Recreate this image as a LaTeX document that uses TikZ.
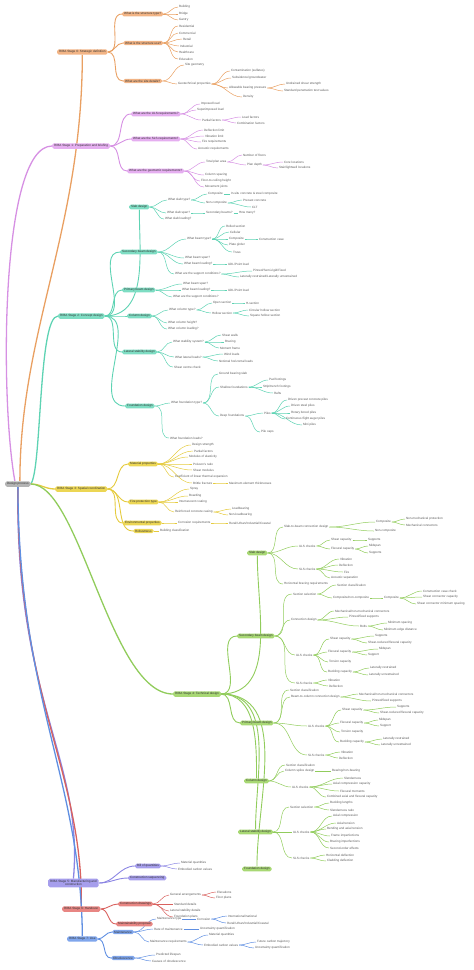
\documentclass[tikz,border=0pt]{standalone}
\usepackage{fontspec}
\setmainfont{Liberation Sans}
\usetikzlibrary{backgrounds}

\definecolor{c0l}{HTML}{E9A062}\definecolor{c0f}{HTML}{F2B485}
\definecolor{c1l}{HTML}{D690E3}\definecolor{c1f}{HTML}{E5AEF0}
\definecolor{c2l}{HTML}{5ED3B3}\definecolor{c2f}{HTML}{7EDDC3}
\definecolor{c3l}{HTML}{E5CB3E}\definecolor{c3f}{HTML}{ECD654}
\definecolor{c4l}{HTML}{91CC5C}\definecolor{c4f}{HTML}{A8D874}
\definecolor{c5l}{HTML}{8B85E3}\definecolor{c5f}{HTML}{A69EEC}
\definecolor{c6l}{HTML}{D9625F}\definecolor{c6f}{HTML}{E88683}
\definecolor{c7l}{HTML}{5F8FE2}\definecolor{c7f}{HTML}{80A6EC}
\definecolor{rootf}{HTML}{B4B4B4}

\tikzset{
  leaf/.style={anchor=west, inner xsep=.8pt, inner ysep=.3pt, text=black!65},
  pill/.style={leaf, fill=#1, rounded corners=1.6pt, inner xsep=2pt, inner ysep=.9pt, text=black!80},
  stage/.style={pill=#1, inner ysep=1.3pt},
  twig/.style={draw=#1, line width=.5pt},
  bough/.style={draw=#1, line width=.9pt},
  trunk/.style={draw=#1, line width=1.3pt},
}
\newcommand\twigs[2]{\foreach \p/\c in {#2} \draw[twig=#1] (\p.east) to[out=0,in=180] (\c.west);}
\newcommand\boughs[2]{\foreach \p/\c in {#2} \draw[bough=#1] (\p.east) to[out=0,in=180] (\c.west);}

\begin{document}
\begin{tikzpicture}[x=1pt, y=-1pt, font=\fontsize{3.1}{3.7}\selectfont]
\useasboundingbox (0,0) rectangle (474,970);

\node[stage=rootf] (root) at (5,484) {Design process};

% stage 0
\node[stage=c0f] (st0) at (57,52) {RIBA Stage 0: Strategic definition};
\node[pill=c0f] (s0typ) at (122,14) {What is the structure type?};
\node[leaf] (s0bld) at (178,7) {Building};
\node[leaf] (s0brg) at (178,14) {Bridge};
\node[leaf] (s0gan) at (178,20) {Gantry};
\node[pill=c0f] (s0use) at (123,43) {What is the structure use?};
\node[leaf] (s0res) at (178,26) {Residential};
\node[leaf] (s0com) at (178,33) {Commercial};
\node[leaf] (s0ret) at (182,39) {Retail};
\node[leaf] (s0ind) at (179,46) {Industrial};
\node[leaf] (s0hea) at (178,52) {Healthcare};
\node[leaf] (s0edu) at (178,59) {Education};
\node[pill=c0f] (s0sit) at (123,81) {What are the site details?};
\node[leaf] (s0sgm) at (184,65) {Site geometry};
\node[leaf] (s0gtp) at (177,84) {Geotechnical properties};
\node[leaf] (s0con) at (230,71) {Contamination (sulfates)};
\node[leaf] (s0sub) at (231,78) {Subsidence/groundwater};
\node[leaf] (s0abp) at (228,88) {Allowable bearing pressure};
\node[leaf] (s0ush) at (285,84) {Undrained shear strength};
\node[leaf] (s0spt) at (283,91) {Standard penetration test values};
\node[leaf] (s0den) at (242,97) {Density};

% stage 1
\node[stage=c1f] (st1) at (52,146) {RIBA Stage 1: Preparation and briefing};
\node[pill=c1f] (s1uls) at (131,114) {What are the ULS requirements?};
\node[leaf] (s1imp) at (200,104) {Imposed load};
\node[leaf] (s1sup) at (196,110) {Superimposed load};
\node[leaf] (s1pf) at (201,120) {Partial factors};
\node[leaf] (s1lf) at (241,117) {Load factors};
\node[leaf] (s1cf) at (236,123) {Combination factors};
\node[pill=c1f] (s1sls) at (131,139) {What are the SLS requirements?};
\node[leaf] (s1def) at (203,130) {Deflection limit};
\node[leaf] (s1vib) at (204,136) {Vibration limit};
\node[leaf] (s1fir) at (201,142) {Fire requirements};
\node[leaf] (s1aco) at (197,149) {Acoustic requirements};
\node[pill=c1f] (s1geo) at (127,171) {What are the geometric requirements?};
\node[leaf] (s1tpa) at (205,162) {Total plan area};
\node[leaf] (s1nof) at (242,155) {Number of floors};
\node[leaf] (s1pd) at (246,165) {Plan depth};
\node[leaf] (s1cor) at (283,162) {Core locations};
\node[leaf] (s1stl) at (278,168) {Stair/lightwell locations};
\node[leaf] (s1col) at (204,175) {Column spacing};
\node[leaf] (s1ftc) at (200,181) {Floor-to-ceiling height};
\node[leaf] (s1mov) at (204,187) {Movement joints};

% stage 2
\node[stage=c2f] (st2) at (58,316) {RIBA Stage 2: Concept design};
\node[pill=c2f] (s2slb) at (129,207) {Slab design};
\node[leaf] (s2sty) at (167,200) {What slab type?};
\node[leaf] (s2cmp) at (207,194) {Composite};
\node[leaf] (s2isc) at (230,194) {In-situ concrete \& steel composite};
\node[leaf] (s2ncp) at (205,203) {Non-composite};
\node[leaf] (s2pc) at (242,200) {Precast concrete};
\node[leaf] (s2clt) at (251,207) {CLT};
\node[leaf] (s2ssp) at (166,213) {What slab span?};
\node[leaf] (s2sbm) at (205,213) {Secondary beams?};
\node[leaf] (s2hm) at (238,213) {How many?};
\node[leaf] (s2sld) at (164,219) {What slab loading?};
\node[pill=c2f] (s2sec) at (120,252) {Secondary beam design};
\node[leaf] (s2bty) at (186,239) {What beam type?};
\node[leaf] (s2rol) at (225,226) {Rolled section};
\node[leaf] (s2cel) at (229,232) {Cellular};
\node[leaf] (s2bcm) at (228,239) {Composite};
\node[leaf] (s2ccs) at (258,239) {Construction case};
\node[leaf] (s2pg) at (228,245) {Plate girder};
\node[leaf] (s2tru) at (232,252) {Truss};
\node[leaf] (s2bsp) at (184,258) {What beam span?};
\node[leaf] (s2bld) at (183,264) {What beam loading?};
\node[leaf] (s2udl) at (227,264) {UDL/Point load};
\node[leaf] (s2sc) at (174,274) {What are the support conditions?};
\node[leaf] (s2psf) at (252,271) {Pinned/Semi-rigid/Fixed};
\node[leaf] (s2lr) at (239,277) {Laterally restrained/Laterally unrestrained};
\node[pill=c2f] (s2pri) at (122,290) {Primary beam design};
\node[leaf] (s2pbs) at (182,284) {What beam span?};
\node[leaf] (s2pbl) at (181,290) {What beam loading?};
\node[leaf] (s2pud) at (227,290) {UDL/Point load};
\node[leaf] (s2psc) at (172,297) {What are the support conditions?};
\node[pill=c2f] (s2col) at (127,316) {Column design};
\node[leaf] (s2cty) at (168,310) {What column type?};
\node[leaf] (s2ops) at (212,303) {Open section};
\node[leaf] (s2hs) at (245,303) {H-section};
\node[leaf] (s2hol) at (211,313) {Hollow section};
\node[leaf] (s2chs) at (248,310) {Circular hollow section};
\node[leaf] (s2shs) at (249,316) {Square hollow section};
\node[leaf] (s2cht) at (167,323) {What column height?};
\node[leaf] (s2cld) at (167,329) {What column loading?};
\node[pill=c2f] (s2lat) at (122,352) {Lateral stability design};
\node[leaf] (s2sys) at (172,342) {What stability system?};
\node[leaf] (s2sw) at (221,335) {Shear walls};
\node[leaf] (s2brc) at (224,342) {Bracing};
\node[leaf] (s2mf) at (219,348) {Moment frame};
\node[leaf] (s2ll) at (174,357) {What lateral loads?};
\node[leaf] (s2wl) at (223,354) {Wind loads};
\node[leaf] (s2nhl) at (218,361) {Notional horizontal loads};
\node[leaf] (s2scc) at (173,367) {Shear centre check};
\node[pill=c2f] (s2fnd) at (125,406) {Foundation design};
\node[leaf] (s2fty) at (170,403) {What foundation type?};
\node[leaf] (s2gbs) at (218,374) {Ground bearing slab};
\node[leaf] (s2shf) at (219,387) {Shallow foundations};
\node[leaf] (s2pad) at (268,380) {Pad footings};
\node[leaf] (s2stf) at (262,387) {Strip/trench footings};
\node[leaf] (s2raf) at (273,393) {Rafts};
\node[leaf] (s2dpf) at (219,416) {Deep foundations};
\node[leaf] (s2pil) at (263,413) {Piles};
\node[leaf] (s2dpc) at (287,400) {Driven precast concrete piles};
\node[leaf] (s2dsp) at (290,406) {Driven steel piles};
\node[leaf] (s2rbp) at (290,413) {Rotary bored piles};
\node[leaf] (s2cfa) at (285,419) {Continuous flight auger piles};
\node[leaf] (s2mp) at (302,425) {Mini piles};
\node[leaf] (s2pcp) at (260,432) {Pile caps};
\node[leaf] (s2fld) at (169,438) {What foundation loads?};

% stage 3
\node[stage=c3f] (st3) at (55,489) {RIBA Stage 3: Spatial coordination};
\node[pill=c3f] (s3mat) at (128,464) {Material properties};
\node[leaf] (s3ds) at (191,445) {Design strength};
\node[leaf] (s3pf) at (193,451) {Partial factors};
\node[leaf] (s3moe) at (188,457) {Modulus of elasticity};
\node[leaf] (s3pr) at (192,464) {Poisson's ratio};
\node[leaf] (s3sm) at (192,470) {Shear modulus};
\node[leaf] (s3cte) at (174,477) {Coefficient of linear thermal expansion};
\node[leaf] (s3bf) at (192,483) {Brittle fracture};
\node[leaf] (s3met) at (228,483) {Maximum element thicknesses};
\node[pill=c3f] (s3fir) at (128,502) {Fire protection type};
\node[leaf] (s3spr) at (189,489) {Spray};
\node[leaf] (s3brd) at (188,496) {Boarding};
\node[leaf] (s3int) at (178,502) {Intumescent coating};
\node[leaf] (s3rcc) at (174,512) {Reinforced concrete casing};
\node[leaf] (s3lb) at (231,509) {Loadbearing};
\node[leaf] (s3nlb) at (228,515) {Non-loadbearing};
\node[pill=c3f] (s3env) at (123,523) {Environmental properties};
\node[leaf] (s3cor) at (177,523) {Corrosion requirements};
\node[leaf] (s3rur) at (228,523) {Rural/Urban/Industrial/Coastal};
\node[pill=c3f] (s3rob) at (133,531) {Robustness};
\node[leaf] (s3bc) at (159,531) {Building classification};

% stage 4
\node[stage=c4f] (st4) at (173,694) {RIBA Stage 4: Technical design};
\node[pill=c4f] (s4slb) at (247,553) {Slab design};
\node[leaf] (s4sbc) at (283,527) {Slab-to-beam connection design};
\node[leaf] (s4cp) at (375,522) {Composite};
\node[leaf] (s4nmc) at (405,519) {Non-mechanical protection};
\node[leaf] (s4mc) at (405,525) {Mechanical connectors};
\node[leaf] (s4ncp) at (374,531) {Non-composite};
\node[leaf] (s4uls) at (298,546) {ULS checks};
\node[leaf] (s4shc) at (330,540) {Shear capacity};
\node[leaf] (s4sup1) at (367,540) {Supports};
\node[leaf] (s4flx) at (330,549) {Flexural capacity};
\node[leaf] (s4mid) at (368,546) {Midspan};
\node[leaf] (s4sup2) at (368,553) {Supports};
\node[leaf] (s4sls) at (298,569) {SLS checks};
\node[leaf] (s4vib) at (339,559) {Vibration};
\node[leaf] (s4def) at (338,565) {Deflection};
\node[leaf] (s4fir) at (343,572) {Fire};
\node[leaf] (s4aco) at (330,578) {Acoustic separation};
\node[leaf] (s4hbr) at (283,584) {Horizontal bracing requirements};
\node[pill=c4f] (s4sec) at (237,636) {Secondary beam design};
\node[leaf] (s4ssel) at (292,594) {Section selection};
\node[leaf] (s4scl) at (336,585) {Section classification};
\node[leaf] (s4cnc) at (332,598) {Composite/non-composite};
\node[leaf] (s4ccp) at (383,598) {Composite};
\node[leaf] (s4ccc) at (422,591) {Construction case check};
\node[leaf] (s4scc) at (422,597) {Shear connector capacity};
\node[leaf] (s4scm) at (416,604) {Shear connector minimum spacing};
\node[leaf] (s4cnd) at (290,620) {Connection design};
\node[leaf] (s4mnm) at (334,611) {Mechanical/non-mechanical connectors};
\node[leaf] (s4pfs) at (348,617) {Pinned/fixed supports};
\node[leaf] (s4blt) at (359,626) {Bolts};
\node[leaf] (s4msp) at (387,623) {Minimum spacing};
\node[leaf] (s4med) at (383,630) {Minimum edge distance};
\node[leaf] (s4suls) at (295,655) {ULS checks};
\node[leaf] (s4ssh) at (329,639) {Shear capacity};
\node[leaf] (s4ssup) at (374,636) {Supports};
\node[leaf] (s4srf) at (367,643) {Shear-reduced flexural capacity};
\node[leaf] (s4sflx) at (327,652) {Flexural capacity};
\node[leaf] (s4smid) at (378,649) {Midspan};
\node[leaf] (s4ssp2) at (367,655) {Support};
\node[leaf] (s4stor) at (328,662) {Torsion capacity};
\node[leaf] (s4sbuc) at (327,672) {Buckling capacity};
\node[leaf] (s4slr) at (369,668) {Laterally restrained};
\node[leaf] (s4slu) at (368,675) {Laterally unrestrained};
\node[leaf] (s4ssls) at (295,683) {SLS checks};
\node[leaf] (s4svib) at (327,680) {Vibration};
\node[leaf] (s4sdef) at (328,686) {Deflection};
\node[pill=c4f] (s4pri) at (240,723) {Primary beam design};
\node[leaf] (s4pscl) at (289,690) {Section classification};
\node[leaf] (s4bcc) at (290,697) {Beam-to-column connection design};
\node[leaf] (s4pmnm) at (358,694) {Mechanical/non-mechanical connectors};
\node[leaf] (s4ppfs) at (371,701) {Pinned/fixed supports};
\node[leaf] (s4puls) at (307,726) {ULS checks};
\node[leaf] (s4psh) at (341,710) {Shear capacity};
\node[leaf] (s4psup) at (396,707) {Supports};
\node[leaf] (s4prf) at (379,713) {Shear-reduced flexural capacity};
\node[leaf] (s4pflx) at (339,723) {Flexural capacity};
\node[leaf] (s4pmid) at (378,720) {Midspan};
\node[leaf] (s4psp2) at (379,726) {Support};
\node[leaf] (s4ptor) at (340,732) {Torsion capacity};
\node[leaf] (s4pbuc) at (339,742) {Buckling capacity};
\node[leaf] (s4plr) at (382,739) {Laterally restrained};
\node[leaf] (s4plu) at (380,745) {Laterally unrestrained};
\node[leaf] (s4psls) at (307,755) {SLS checks};
\node[leaf] (s4pvib) at (340,752) {Vibration};
\node[leaf] (s4pdef) at (338,758) {Deflection};
\node[pill=c4f] (s4col) at (244,781) {Column design};
\node[leaf] (s4cscl) at (285,765) {Section classification};
\node[leaf] (s4csp) at (284,771) {Column splice design};
\node[leaf] (s4cbnb) at (331,771) {Bearing/non-bearing};
\node[leaf] (s4culs) at (291,787) {ULS checks};
\node[leaf] (s4csl) at (343,778) {Slenderness};
\node[leaf] (s4cacc) at (332,784) {Axial compression capacity};
\node[leaf] (s4cfm) at (339,791) {Flexural moments};
\node[leaf] (s4ccaf) at (326,797) {Combined axial and flexural capacity};
\node[pill=c4f] (s4lat) at (238,832) {Lateral stability design};
\node[leaf] (s4lsel) at (289,807) {Section selection};
\node[leaf] (s4lbl) at (329,803) {Buckling lengths};
\node[leaf] (s4lsr) at (329,810) {Slenderness ratio};
\node[leaf] (s4luls) at (292,832) {ULS checks};
\node[leaf] (s4lac) at (332,816) {Axial compression};
\node[leaf] (s4ltn) at (336,823) {Axial tension};
\node[leaf] (s4lbat) at (326,829) {Bending and axial tension};
\node[leaf] (s4lfi) at (330,836) {Frame imperfections};
\node[leaf] (s4lbi) at (329,842) {Bracing imperfections};
\node[leaf] (s4lsoe) at (329,848) {Second-order effects};
\node[leaf] (s4lsls) at (292,858) {SLS checks};
\node[leaf] (s4lhd) at (325,855) {Horizontal deflection};
\node[leaf] (s4lcd) at (326,861) {Cladding deflection};
\node[pill=c4f] (s4fnd) at (242,869) {Foundation design};

% stage 5
\node[stage=c5f, align=center] (st5) at (48,883) {RIBA Stage 5: Manufacturing and\\construction};
\node[pill=c5f] (s5boq) at (135,866) {Bill of quantities};
\node[leaf] (s5mq) at (180,863) {Material quantities};
\node[leaf] (s5ecv) at (177,869) {Embodied carbon values};
\node[pill=c5f] (s5seq) at (128,878) {Construction sequencing};

% stage 6
\node[stage=c6f] (st6) at (62,909) {RIBA Stage 6: Handover};
\node[pill=c6f] (s6drw) at (118,904) {Construction drawings};
\node[leaf] (s6ga) at (169,895) {General arrangements};
\node[leaf] (s6elv) at (216,892) {Elevations};
\node[leaf] (s6fp) at (215,898) {Floor plans};
\node[leaf] (s6sd) at (173,904) {Standard details};
\node[leaf] (s6lsd) at (169,911) {Lateral stability details};
\node[leaf] (s6fnp) at (173,917) {Foundation plans};
\node[pill=c6f] (s6mnt) at (116,924) {Maintainability proposal};

% stage 7
\node[stage=c7f] (st7) at (67,939) {RIBA Stage 7: Use};
\node[pill=c7f] (s7mnt) at (112,932) {Maintenance};
\node[leaf] (s7mty) at (156,919) {Maintenance type};
\node[leaf] (s7cor) at (196,919) {Corrosion};
\node[leaf] (s7int) at (227,916) {International/national};
\node[leaf] (s7rur) at (226,923) {Rural/Urban/Industrial/Coastal};
\node[leaf] (s7rom) at (153,929) {Rate of maintenance};
\node[leaf] (s7unc) at (199,929) {Uncertainty quantification};
\node[leaf] (s7req) at (149,942) {Maintenance requirements};
\node[leaf] (s7mq) at (208,935) {Material quantities};
\node[leaf] (s7ecv) at (203,945) {Embodied carbon values};
\node[leaf] (s7fct) at (256,942) {Future carbon trajectory};
\node[leaf] (s7unq) at (254,948) {Uncertainty quantification};
\node[pill=c7f] (s7obs) at (111,958) {Obsolescence};
\node[leaf] (s7pl) at (155,955) {Predicted lifespan};
\node[leaf] (s7coo) at (151,961) {Causes of obsolescence};

\begin{scope}[on background layer]
% root to stages
\draw[trunk=c0l] ([xshift=2pt]root.north) .. controls (20,330) and (82,230) .. (st0.south);
\draw[trunk=c1l] ([xshift=-3pt]root.north) .. controls (0,400) and (0,146) .. (st1.west);
\draw[trunk=c2l] (root.east) .. controls (42,470) and (38,316) .. (st2.west);
\draw[trunk=c3l] (root.east) to[out=0,in=180] (st3.west);
\draw[trunk=c4l] (root.east) .. controls (80,484) and (110,694) .. (st4.west);
\draw[trunk=c5l] (root.south) .. controls (15,700) and (84,760) .. (st5.north);
\draw[trunk=c6l] (root.south) .. controls (17,700) and (83,770) .. (st6.north);
\draw[trunk=c7l] (root.south) .. controls (19,700) and (81,780) .. (st7.north);

\boughs{c0l}{st0/s0typ, st0/s0use, st0/s0sit}
\twigs{c0l}{s0typ/s0bld, s0typ/s0brg, s0typ/s0gan, s0use/s0res, s0use/s0com, s0use/s0ret, s0use/s0ind, s0use/s0hea, s0use/s0edu, s0sit/s0sgm, s0sit/s0gtp, s0gtp/s0con, s0gtp/s0sub, s0gtp/s0abp, s0gtp/s0den, s0abp/s0ush, s0abp/s0spt}

\boughs{c1l}{st1/s1uls, st1/s1sls, st1/s1geo}
\twigs{c1l}{s1uls/s1imp, s1uls/s1sup, s1uls/s1pf, s1pf/s1lf, s1pf/s1cf, s1sls/s1def, s1sls/s1vib, s1sls/s1fir, s1sls/s1aco, s1geo/s1tpa, s1tpa/s1nof, s1tpa/s1pd, s1pd/s1cor, s1pd/s1stl, s1geo/s1col, s1geo/s1ftc, s1geo/s1mov}

\draw[bough=c2l] (st2.east) to[out=0,in=-90] (s2slb.south);
\boughs{c2l}{st2/s2sec, st2/s2pri, st2/s2col, st2/s2lat, st2/s2fnd}
\twigs{c2l}{s2slb/s2sty, s2sty/s2cmp, s2cmp/s2isc, s2sty/s2ncp, s2ncp/s2pc, s2ncp/s2clt, s2slb/s2ssp, s2ssp/s2sbm, s2sbm/s2hm, s2slb/s2sld, s2sec/s2bty, s2bty/s2rol, s2bty/s2cel, s2bty/s2bcm, s2bcm/s2ccs, s2bty/s2pg, s2bty/s2tru, s2sec/s2bsp, s2sec/s2bld, s2bld/s2udl, s2sec/s2sc, s2sc/s2psf, s2sc/s2lr, s2pri/s2pbs, s2pri/s2pbl, s2pbl/s2pud, s2pri/s2psc, s2col/s2cty, s2cty/s2ops, s2ops/s2hs, s2cty/s2hol, s2hol/s2chs, s2hol/s2shs, s2col/s2cht, s2col/s2cld, s2lat/s2sys, s2sys/s2sw, s2sys/s2brc, s2sys/s2mf, s2lat/s2ll, s2ll/s2wl, s2ll/s2nhl, s2lat/s2scc, s2fnd/s2fty, s2fty/s2gbs, s2fty/s2shf, s2shf/s2pad, s2shf/s2stf, s2shf/s2raf, s2fty/s2dpf, s2dpf/s2pil, s2pil/s2dpc, s2pil/s2dsp, s2pil/s2rbp, s2pil/s2cfa, s2pil/s2mp, s2dpf/s2pcp, s2fnd/s2fld}

\boughs{c3l}{st3/s3mat, st3/s3fir, st3/s3env, st3/s3rob}
\twigs{c3l}{s3mat/s3ds, s3mat/s3pf, s3mat/s3moe, s3mat/s3pr, s3mat/s3sm, s3mat/s3cte, s3mat/s3bf, s3bf/s3met, s3fir/s3spr, s3fir/s3brd, s3fir/s3int, s3fir/s3rcc, s3rcc/s3lb, s3rcc/s3nlb, s3env/s3cor, s3cor/s3rur, s3rob/s3bc}

\draw[bough=c4l] (st4.east) to[out=0,in=-90] (s4slb.south);
\draw[bough=c4l] (st4.east) to[out=0,in=90] (s4col.north);
\draw[bough=c4l] (st4.east) to[out=0,in=90] (s4lat.north);
\draw[bough=c4l] (st4.east) to[out=0,in=90] (s4fnd.north);
\boughs{c4l}{st4/s4sec, st4/s4pri}
\twigs{c4l}{s4slb/s4sbc, s4sbc/s4cp, s4cp/s4nmc, s4cp/s4mc, s4sbc/s4ncp, s4slb/s4uls, s4uls/s4shc, s4shc/s4sup1, s4uls/s4flx, s4flx/s4mid, s4flx/s4sup2, s4slb/s4sls, s4sls/s4vib, s4sls/s4def, s4sls/s4fir, s4sls/s4aco, s4slb/s4hbr}
\twigs{c4l}{s4sec/s4ssel, s4ssel/s4scl, s4ssel/s4cnc, s4cnc/s4ccp, s4ccp/s4ccc, s4ccp/s4scc, s4ccp/s4scm, s4sec/s4cnd, s4cnd/s4mnm, s4cnd/s4pfs, s4cnd/s4blt, s4blt/s4msp, s4blt/s4med, s4sec/s4suls, s4suls/s4ssh, s4ssh/s4ssup, s4ssh/s4srf, s4suls/s4sflx, s4sflx/s4smid, s4sflx/s4ssp2, s4suls/s4stor, s4suls/s4sbuc, s4sbuc/s4slr, s4sbuc/s4slu, s4sec/s4ssls, s4ssls/s4svib, s4ssls/s4sdef}
\twigs{c4l}{s4pri/s4pscl, s4pri/s4bcc, s4bcc/s4pmnm, s4bcc/s4ppfs, s4pri/s4puls, s4puls/s4psh, s4psh/s4psup, s4psh/s4prf, s4puls/s4pflx, s4pflx/s4pmid, s4pflx/s4psp2, s4puls/s4ptor, s4puls/s4pbuc, s4pbuc/s4plr, s4pbuc/s4plu, s4pri/s4psls, s4psls/s4pvib, s4psls/s4pdef}
\twigs{c4l}{s4col/s4cscl, s4col/s4csp, s4csp/s4cbnb, s4col/s4culs, s4culs/s4csl, s4culs/s4cacc, s4culs/s4cfm, s4culs/s4ccaf, s4lat/s4lsel, s4lsel/s4lbl, s4lsel/s4lsr, s4lat/s4luls, s4luls/s4lac, s4luls/s4ltn, s4luls/s4lbat, s4luls/s4lfi, s4luls/s4lbi, s4luls/s4lsoe, s4lat/s4lsls, s4lsls/s4lhd, s4lsls/s4lcd}

\boughs{c5l}{st5/s5boq, st5/s5seq}
\twigs{c5l}{s5boq/s5mq, s5boq/s5ecv}

\boughs{c6l}{st6/s6drw, st6/s6mnt}
\twigs{c6l}{s6drw/s6ga, s6ga/s6elv, s6ga/s6fp, s6drw/s6sd, s6drw/s6lsd, s6drw/s6fnp}

\boughs{c7l}{st7/s7mnt, st7/s7obs}
\twigs{c7l}{s7mnt/s7mty, s7mty/s7cor, s7cor/s7int, s7cor/s7rur, s7mnt/s7rom, s7rom/s7unc, s7mnt/s7req, s7req/s7mq, s7req/s7ecv, s7ecv/s7fct, s7ecv/s7unq, s7obs/s7pl, s7obs/s7coo}
\end{scope}
\end{tikzpicture}
\end{document}
